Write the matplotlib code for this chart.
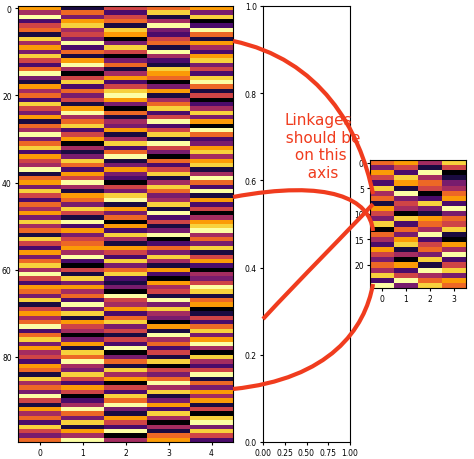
import numpy as np
import matplotlib.pyplot as plt
from matplotlib.patches import PathPatch
from matplotlib.path import Path

# big heatmap values (0-9 per cell), 100 rows x 5 columns
big_rows = [
    "71567", "46283", "93518", "27640", "58192", "64839", "15726", "83051", "49367", "72814",
    "36592", "81047", "57328", "29613", "64185", "90472", "35768", "18209", "72536", "46871",
    "63915", "25740", "81362", "57084", "39628", "74153", "16497", "68320", "42759", "95186",
    "37412", "60893", "84257", "21638", "73904", "58167", "46328", "92751", "17384", "65219",
    "79046", "34582", "81369", "57831", "26947", "63182", "48715", "75390", "31624", "89057",
    "42718", "67239", "13894", "85406", "56123", "27768", "74531", "39285", "62847", "80312",
    "45670", "91824", "58203", "23175", "77349", "64058", "36911", "82596", "19437", "53780",
    "78241", "41635", "67802", "95376", "24518", "60193", "83547", "37269", "71924", "48050",
    "56318", "29684", "74102", "63855", "18439", "85761", "42096", "67543", "35287", "90814",
    "52637", "14971", "79325", "46180", "63748", "28509", "81243", "57918", "34065", "69472",
]
# small heatmap values, 25 rows x 4 columns
small_rows = [
    "6748", "3515", "7290", "5841", "2763", "8154", "4906", "6327", "1582", "7439",
    "5013", "3876", "8265", "0648", "6391", "4720", "2857", "7164", "5439", "3082",
    "6715", "4298", "8543", "2967", "9386",
]

big = np.array([[int(c) for c in r] for r in big_rows])
small = np.array([[int(c) for c in r] for r in small_rows])

fig = plt.figure(figsize=(4.74, 4.60), dpi=100)
W, H = 474, 460

def box(x0, y0, x1, y1):
    return [x0 / W, 1 - y1 / H, (x1 - x0) / W, (y1 - y0) / H]

ax1 = fig.add_axes(box(18, 7, 233, 443))
ax1.imshow(big, cmap='inferno', aspect='auto', interpolation='nearest')
ax1.set_yticks([0, 20, 40, 60, 80])
ax1.set_xticks(range(5))

ax2 = fig.add_axes(box(263, 7, 350, 443))
ax2.set_xlim(0, 1)
ax2.set_ylim(0, 1)
ax2.set_xticks([0, 0.25, 0.5, 0.75, 1.0])

ax3 = fig.add_axes(box(370, 161, 466, 289))
ax3.imshow(small, cmap='inferno', aspect='auto', interpolation='nearest')
ax3.set_yticks([0, 5, 10, 15, 20])
ax3.set_xticks(range(4))

for a in (ax1, ax2, ax3):
    a.tick_params(labelsize=5.5, length=2.5, pad=2)

red = '#f03c1e'
def curve(pts, codes):
    verts = [(x / W, 1 - y / H) for x, y in pts]
    fig.add_artist(PathPatch(Path(verts, codes), transform=fig.transFigure,
                             fill=False, edgecolor=red, lw=3))

C4 = [Path.MOVETO, Path.CURVE4, Path.CURVE4, Path.CURVE4]
curve([(233, 42), (320, 60), (360, 130), (373, 195)], C4)
curve([(233, 198), (330, 180), (370, 200), (373, 232)], C4)
curve([(263, 320), (300, 280), (350, 230), (373, 205)], C4)
curve([(233, 390), (330, 380), (365, 330), (373, 285)], C4)

fig.text(318 / W, 1 - 147 / H, 'Linkages\n  should be\n on this\n  axis', color=red,
         fontsize=11, ha='center', va='center', linespacing=1.2)

fig.savefig('out.png', dpi=100)
